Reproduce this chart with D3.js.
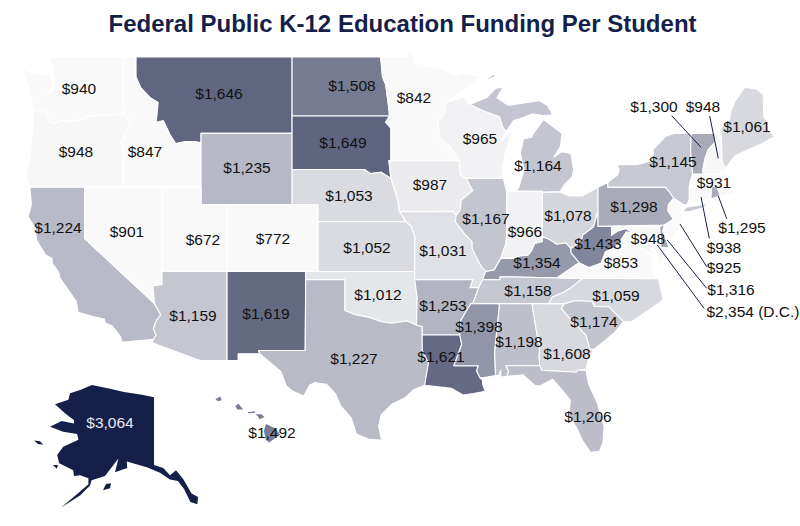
<!DOCTYPE html>
<html>
<head>
<meta charset="utf-8">
<script src="https://cdn.jsdelivr.net/npm/d3@7"></script>
<style>
  html, body { margin: 0; padding: 0; background: #fff; }
  text { font-family: "Liberation Sans", Arial, sans-serif; }
</style>
</head>
<body>
<svg id="map" width="800" height="526"></svg>
<script>
const stateIds = ["WA","OR","CA","ID","NV","MT","WY","UT","AZ","CO","NM","ND","SD","NE","KS","OK","TX","MN","IA","MO","AR","LA","WI","IL","MI","IN","OH","KY","TN","MS","AL","GA","FL","SC","NC","VA","WV","PA","NY","VT","NH","ME","MA","RI","CT","NJ","DE","MD","DC","AK","HI"];
const funding = [940,948,1224,847,901,1646,1235,672,1159,772,1619,1508,1649,1053,1052,1012,1227,842,987,1031,1253,1621,965,1167,1164,966,1078,1354,1158,1398,1198,1608,1206,1174,1059,853,1433,1298,1145,1300,948,1061,931,1295,938,925,1316,948,2354,3064,1492];

// Georgia is printed much lighter in the original than its number says
const shadeOverride = { GA: 1060 };
const shadeStops = [940, 1060, 1235, 1300, 1354, 1400, 1433, 1650, 3064];
const shadeColors = ["#f9f9fa", "#d8d9df", "#b6b8c5", "#a9abb9", "#9699aa", "#9295a7", "#82869c", "#60657f", "#161f49"];

// lon/lat outlines, roughly traced
const stateShapes = {
  WA: [[[-124.73,48.38],[-123.4,48.12],[-122.75,48.14],[-122.5,47.6],[-122.9,47.1],[-122.4,47.3],[-122.3,47.9],[-122.5,48.5],[-122.76,49],[-117.03,49],[-117.04,46.42],[-116.92,45.99],[-118.98,46],[-119.3,45.93],[-119.6,45.92],[-120.5,45.7],[-121.2,45.65],[-121.8,45.7],[-122.3,45.55],[-122.8,45.65],[-122.9,46.1],[-123.4,46.2],[-124,46.27],[-124.07,46.7],[-124.15,47],[-124.4,47.6],[-124.7,48.1]]],
  OR: [[[-124,46.27],[-123.4,46.2],[-122.9,46.1],[-122.8,45.65],[-122.3,45.55],[-121.8,45.7],[-121.2,45.65],[-120.5,45.7],[-119.6,45.92],[-119.3,45.93],[-118.98,46],[-116.92,45.99],[-116.47,45.6],[-116.85,45],[-117.2,44.45],[-117.03,44.25],[-117.03,42],[-124.21,42],[-124.4,42.3],[-124.55,42.84],[-124.2,43.5],[-124.1,44.6],[-123.95,45.5],[-123.95,46.2]]],
  CA: [[[-124.21,42],[-120,42],[-120,39],[-114.63,35],[-114.15,34.3],[-114.5,33.9],[-114.72,33.4],[-114.5,33],[-114.72,32.72],[-117.12,32.53],[-117.25,32.9],[-117.9,33.6],[-118.4,33.75],[-118.5,34.03],[-119.2,34.15],[-120.5,34.45],[-120.65,35.15],[-121.9,36.6],[-122,36.95],[-122.5,37.5],[-122.5,37.8],[-123,38],[-123.7,38.9],[-123.8,39.6],[-124.35,40.3],[-124.1,41]]],
  ID: [[[-117.03,49],[-116.05,49],[-116.05,48],[-115.7,47.45],[-114.95,46.9],[-114.35,46.65],[-114.5,45.6],[-113.95,45.7],[-113.45,44.95],[-113,44.45],[-112.3,44.55],[-111.5,44.55],[-111.05,44.48],[-111.05,42],[-117.03,42],[-117.03,44.25],[-117.2,44.45],[-116.85,45],[-116.47,45.6],[-116.92,45.99],[-117.04,46.42]]],
  NV: [[[-120,42],[-114.04,42],[-114.05,36.2],[-114.75,36.1],[-114.63,35],[-120,39]]],
  MT: [[[-116.05,49],[-104.05,49],[-104.05,45],[-111.05,45],[-111.05,44.48],[-111.5,44.55],[-112.3,44.55],[-113,44.45],[-113.45,44.95],[-113.95,45.7],[-114.5,45.6],[-114.35,46.65],[-114.95,46.9],[-115.7,47.45],[-116.05,48]]],
  WY: [[[-111.05,45],[-104.05,45],[-104.05,41],[-111.05,41]]],
  UT: [[[-114.04,42],[-111.05,42],[-111.05,41],[-109.05,41],[-109.05,37],[-114.05,37]]],
  AZ: [[[-114.05,37],[-109.05,37],[-109.05,31.33],[-111.07,31.33],[-114.81,32.5],[-114.72,32.72],[-114.5,33],[-114.72,33.4],[-114.5,33.9],[-114.15,34.3],[-114.63,35],[-114.75,36.1],[-114.05,36.2]]],
  CO: [[[-109.05,41],[-102.05,41],[-102.05,37],[-109.05,37]]],
  NM: [[[-109.05,37],[-103,37],[-103.04,32],[-106.62,32],[-106.53,31.78],[-108.2,31.78],[-108.2,31.33],[-109.05,31.33]]],
  ND: [[[-104.05,49],[-97.23,49],[-97.1,48],[-96.85,47.6],[-96.6,46.3],[-96.56,45.94],[-104.05,45.94]]],
  SD: [[[-104.05,45.94],[-96.56,45.94],[-96.85,45.6],[-96.45,45.3],[-96.45,43.5],[-96.6,43.5],[-96.45,42.5],[-97.2,42.85],[-98,42.77],[-98.5,43],[-104.05,43]]],
  NE: [[[-104.05,43],[-98.5,43],[-98,42.77],[-97.2,42.85],[-96.45,42.5],[-96.1,41.7],[-95.9,41.2],[-95.85,40.7],[-95.31,40],[-102.05,40],[-102.05,41],[-104.05,41]]],
  KS: [[[-102.05,40],[-95.31,40],[-94.9,39.75],[-94.6,39.1],[-94.62,37],[-102.05,37]]],
  OK: [[[-103,37],[-94.62,37],[-94.43,35.4],[-94.48,33.64],[-95.2,33.9],[-96.4,33.75],[-97.2,33.85],[-98.1,34.13],[-99.2,34.3],[-100,34.56],[-100,36.5],[-103,36.5]]],
  TX: [[[-103,36.5],[-100,36.5],[-100,34.56],[-99.2,34.3],[-98.1,34.13],[-97.2,33.85],[-96.4,33.75],[-95.2,33.9],[-94.48,33.64],[-94.04,33.55],[-94.04,32],[-93.55,31.2],[-93.7,30.5],[-93.85,29.7],[-94.7,29.4],[-95.3,28.9],[-96.4,28.4],[-97.2,27.7],[-97.4,26.9],[-97.15,25.96],[-98.2,26.05],[-99.1,26.4],[-99.5,27.5],[-100.3,28.3],[-100.7,29.1],[-101.4,29.77],[-102.3,29.88],[-102.7,29.7],[-103.15,28.98],[-104,29.3],[-104.5,29.65],[-104.9,30.6],[-106,31.4],[-106.53,31.78],[-106.62,32],[-103.04,32]]],
  MN: [[[-97.23,49],[-95.15,49],[-95.15,49.38],[-94.8,49.3],[-94.6,48.7],[-93.5,48.55],[-92.5,48.4],[-91.4,48.05],[-90.8,48.2],[-89.5,48],[-90.8,47.3],[-92.05,46.7],[-92.3,46.66],[-92.3,46.1],[-92.85,45.6],[-92.75,45],[-92.75,44.75],[-91.9,44.3],[-91.2,43.5],[-96.45,43.5],[-96.45,45.3],[-96.85,45.6],[-96.56,45.94],[-96.6,46.3],[-96.85,47.6],[-97.1,48]]],
  IA: [[[-96.45,43.5],[-91.2,43.5],[-91.1,42.7],[-90.65,42.5],[-90.15,41.8],[-91.05,41.25],[-91.1,40.7],[-91.42,40.38],[-91.7,40.6],[-95.77,40.58],[-95.9,41.2],[-96.1,41.7],[-96.45,42.5],[-96.6,43.5]]],
  MO: [[[-95.77,40.58],[-91.7,40.6],[-91.42,40.38],[-91.5,40],[-90.75,39.25],[-90.2,38.8],[-90.2,38.4],[-89.5,37.3],[-89.15,37],[-89.4,36.5],[-89.7,36],[-90.37,36],[-90.15,36.5],[-94.62,36.5],[-94.62,37],[-94.6,39.1],[-94.9,39.75],[-95.31,40],[-95.85,40.7]]],
  AR: [[[-94.62,36.5],[-90.15,36.5],[-90.37,36],[-89.7,36],[-90.1,35.1],[-90.6,34.6],[-91.1,33.9],[-91.15,33],[-94.04,33],[-94.04,33.55],[-94.48,33.64],[-94.43,35.4]]],
  LA: [[[-94.04,33],[-91.15,33],[-91,32.4],[-91.6,31],[-89.73,31],[-89.85,30.65],[-89.6,30.2],[-89.4,30.05],[-89.4,29.8],[-89.2,29.3],[-90.1,29.15],[-90.9,29.05],[-91.8,29.5],[-92.3,29.55],[-93.85,29.7],[-93.7,30.5],[-93.55,31.2],[-94.04,32]]],
  WI: [[[-92.3,46.66],[-92.05,46.7],[-90.9,46.95],[-90.4,46.55],[-89.1,46.15],[-88.1,45.9],[-87.85,45.35],[-87.6,45.1],[-88,44.55],[-87.05,45.25],[-87.7,43.8],[-87.9,43],[-87.8,42.5],[-90.65,42.5],[-91.1,42.7],[-91.2,43.5],[-91.9,44.3],[-92.75,44.75],[-92.75,45],[-92.85,45.6],[-92.3,46.1]]],
  IL: [[[-90.65,42.5],[-87.8,42.5],[-87.55,41.75],[-87.53,39.35],[-87.6,38.7],[-88,37.8],[-88.5,37.1],[-89.15,37],[-89.5,37.3],[-90.2,38.4],[-90.2,38.8],[-90.75,39.25],[-91.5,40],[-91.42,40.38],[-91.1,40.7],[-91.05,41.25],[-90.15,41.8]]],
  MI: [[[-86.82,41.76],[-84.8,41.76],[-84.8,41.7],[-83.45,41.73],[-83.15,42.1],[-82.5,42.6],[-82.4,43],[-82.6,43.9],[-83.3,44],[-83.9,43.7],[-83.4,44.3],[-83.3,45],[-84.7,45.75],[-85.5,45],[-85.6,44.8],[-86.25,44.7],[-86.5,43.9],[-86.2,43],[-86.6,42]],
       [[-90.4,46.55],[-89.1,46.9],[-88.4,47.4],[-87.8,47.45],[-88.3,46.9],[-87.4,46.5],[-86.1,46.65],[-85,46.75],[-84.4,46.5],[-84,46],[-84.7,45.95],[-85.6,46.05],[-86.5,45.8],[-87,45.7],[-87.6,45.1],[-87.85,45.35],[-88.1,45.9],[-89.1,46.15]],
       [[-89.2,47.85],[-88.5,48.15],[-88.45,48],[-89,47.85]]],
  IN: [[[-87.53,41.72],[-86.82,41.76],[-84.8,41.76],[-84.8,38.8],[-85.4,38.7],[-85.6,38.3],[-85.9,38],[-86.5,37.95],[-87.1,37.8],[-88,37.8],[-87.6,38.7],[-87.53,39.35]]],
  OH: [[[-84.8,41.7],[-83.45,41.73],[-82.7,41.5],[-81.7,41.5],[-80.52,42],[-80.52,40.64],[-80.85,39.7],[-81.7,39.2],[-81.75,39],[-82.2,38.6],[-82.6,38.4],[-83,38.73],[-83.7,38.65],[-84.3,38.95],[-84.8,39.1]]],
  KY: [[[-89.4,36.5],[-89.15,37],[-88.5,37.1],[-88,37.8],[-87.1,37.8],[-86.5,37.95],[-85.9,38],[-85.6,38.3],[-85.4,38.7],[-84.8,38.8],[-84.8,39.1],[-84.3,38.95],[-83.7,38.65],[-83,38.73],[-82.6,38.4],[-82.6,38.15],[-81.97,37.54],[-83.68,36.6],[-88.05,36.68],[-88.05,36.5]]],
  TN: [[[-89.7,36],[-89.4,36.5],[-88.05,36.5],[-88.05,36.68],[-83.68,36.6],[-81.68,36.59],[-82.6,36],[-83.1,35.75],[-84.03,35.4],[-84.32,35],[-85.6,35],[-88.2,35],[-90.3,35],[-90.1,35.1]]],
  MS: [[[-90.3,35],[-88.2,35],[-88.1,34.9],[-88.47,31.9],[-88.4,30.35],[-89.4,30.2],[-89.6,30.2],[-89.85,30.65],[-89.73,31],[-91.6,31],[-91,32.4],[-91.15,33],[-91.1,33.9],[-90.6,34.6]]],
  AL: [[[-88.2,35],[-85.6,35],[-85.18,32.87],[-85,32.3],[-85.05,31.55],[-85,31],[-87.6,31],[-87.4,30.65],[-87.5,30.3],[-88,30.25],[-88,30.7],[-88.15,30.35],[-88.4,30.35],[-88.47,31.9],[-88.1,34.9]]],
  GA: [[[-85.6,35],[-84.32,35],[-83.1,35],[-83.35,34.7],[-82.6,34],[-81.9,33.4],[-81.45,33],[-81.15,32.1],[-80.85,32.05],[-81.3,31.3],[-81.45,30.72],[-82.05,30.7],[-82.2,30.57],[-84.86,30.7],[-85,31],[-85.05,31.55],[-85,32.3],[-85.18,32.87]]],
  FL: [[[-87.6,31],[-85,31],[-84.86,30.7],[-82.2,30.57],[-82.05,30.7],[-81.45,30.72],[-81.25,29.8],[-80.55,28.45],[-80.05,26.9],[-80.15,25.75],[-80.4,25.2],[-81.1,25.13],[-81.75,26],[-82.1,26.7],[-82.75,27.7],[-82.65,28.7],[-83.4,29.5],[-84,30.1],[-85,29.65],[-85.4,29.7],[-86.3,30.4],[-87.5,30.3],[-87.4,30.65]]],
  SC: [[[-83.1,35],[-82.3,35.2],[-81.04,35.15],[-80.93,35.1],[-80.8,34.82],[-79.67,34.8],[-78.55,33.86],[-79.2,33.2],[-79.9,32.7],[-80.85,32.05],[-81.15,32.1],[-81.45,33],[-81.9,33.4],[-82.6,34],[-83.35,34.7]]],
  NC: [[[-81.68,36.59],[-75.87,36.55],[-75.5,35.25],[-76.5,34.65],[-77.95,33.85],[-78.55,33.86],[-79.67,34.8],[-80.8,34.82],[-80.93,35.1],[-81.04,35.15],[-82.3,35.2],[-83.1,35],[-84.32,35],[-84.03,35.4],[-83.1,35.75],[-82.6,36]]],
  VA: [[[-83.68,36.6],[-81.97,37.54],[-81.22,37.24],[-80.3,37.5],[-79.95,38.2],[-79.3,38.42],[-78.87,38.77],[-78.35,39.4],[-77.8,39.32],[-77.5,39.15],[-77.04,38.8],[-77.25,38.35],[-76.95,38.3],[-76.3,37.95],[-76.3,37],[-75.97,36.55],[-81.68,36.59]],
       [[-75.9,37.95],[-75.25,38.03],[-75.95,37.15]]],
  WV: [[[-82.6,38.4],[-82.2,38.6],[-81.75,39],[-81.7,39.2],[-80.85,39.7],[-80.52,40.64],[-80.52,39.72],[-79.48,39.72],[-79.48,39.2],[-79,39.45],[-78.4,39.6],[-77.8,39.32],[-78.35,39.4],[-78.87,38.77],[-79.3,38.42],[-79.95,38.2],[-80.3,37.5],[-81.22,37.24],[-81.97,37.54],[-82.6,38.15]]],
  PA: [[[-80.52,42],[-79.76,42.27],[-79.76,42],[-75.35,42],[-75.05,41.75],[-74.7,41.36],[-75.1,41],[-75.15,40.65],[-74.72,40.15],[-75.4,39.8],[-80.52,39.72],[-80.52,40.64]]],
  NY: [[[-79.76,42.27],[-79,42.7],[-78.9,43],[-79.05,43.27],[-77.5,43.27],[-76.2,43.55],[-76.3,44.1],[-75.3,44.85],[-74.7,45],[-73.35,45],[-73.4,44],[-73.25,42.75],[-73.5,42.05],[-73.5,41.3],[-73.65,41],[-74,41],[-74.7,41.36],[-75.05,41.75],[-75.35,42],[-79.76,42]],
       [[-74,40.6],[-73.75,40.85],[-72.6,40.98],[-72,41.1],[-72.5,40.8],[-73.5,40.58]]],
  VT: [[[-73.35,45],[-71.5,45],[-71.55,44.5],[-72.05,44.1],[-72.3,43.6],[-72.45,43],[-72.46,42.73],[-73.25,42.75],[-73.4,44]]],
  NH: [[[-71.5,45],[-71.3,45.3],[-71.03,44.65],[-70.97,43.4],[-70.7,43.07],[-70.82,42.87],[-71.25,42.73],[-72.46,42.73],[-72.45,43],[-72.3,43.6],[-72.05,44.1],[-71.55,44.5]]],
  ME: [[[-71.03,44.65],[-71.08,45.3],[-70.4,45.75],[-70.3,46.2],[-70,46.7],[-69.23,47.46],[-68.3,47.35],[-67.8,47.07],[-67.78,45.9],[-67.45,45.6],[-67.45,45.2],[-66.95,44.82],[-68,44.4],[-69,44.1],[-70,43.75],[-70.7,43.07],[-70.97,43.4]]],
  MA: [[[-73.5,42.05],[-73.25,42.75],[-72.46,42.73],[-71.25,42.73],[-70.82,42.87],[-70.6,42.65],[-71,42.3],[-70.65,41.95],[-70.5,41.78],[-70.05,41.8],[-70.2,42.07],[-69.95,41.7],[-70.65,41.55],[-71.12,41.5],[-71.38,42.02],[-71.8,42.02]]],
  RI: [[[-71.8,42.02],[-71.38,42.02],[-71.12,41.5],[-71.85,41.32]]],
  CT: [[[-73.5,42.05],[-71.8,42.02],[-71.85,41.32],[-73.65,41],[-73.5,41.3]]],
  NJ: [[[-74.7,41.36],[-74,41],[-74.25,40.5],[-74,40.45],[-74.1,39.75],[-74.9,38.95],[-75.5,39.5],[-75.4,39.8],[-74.72,40.15],[-75.15,40.65],[-75.1,41]]],
  DE: [[[-75.79,39.72],[-75.4,39.8],[-75.55,39.45],[-75.05,38.45],[-75.7,38.46]]],
  MD: [[[-79.48,39.72],[-75.79,39.72],[-75.7,38.46],[-75.05,38.45],[-75.25,38.03],[-75.9,37.95],[-76.2,38.4],[-76.35,39.2],[-76.5,38.5],[-76.3,38.05],[-76.95,38.3],[-77.25,38.35],[-77.04,38.8],[-77.5,39.15],[-77.8,39.32],[-78.4,39.6],[-79,39.45],[-79.48,39.2]]],
  DC: [[[-77.12,38.93],[-77.04,39],[-76.91,38.89],[-77.04,38.79]]],
  AK: [[[-156.5,71.35],[-152,70.85],[-148.5,70.4],[-144,70],[-141,69.65],[-141,60.3],[-138.7,59.9],[-137,58.9],[-135.5,59.6],[-133.7,58.4],[-131.6,56.4],[-130,55.9],[-130.15,54.9],[-131.9,55.2],[-133.5,57],[-135,58.1],[-137,58.3],[-139.5,59.25],[-142.8,60],[-147.8,60.8],[-147.7,59.9],[-150.75,59.3],[-149.9,61.2],[-153.25,58.8],[-156.6,58.2],[-157,57.5],[-159.5,56.1],[-164.2,54.45],[-159.7,56.55],[-157.4,57.65],[-157.4,58.5],[-159.5,58.9],[-161,58.8],[-161.2,59.6],[-164.7,60.55],[-165.2,61.7],[-163.7,62.85],[-159.9,63.8],[-160.2,64.6],[-163.7,64.9],[-167,65.6],[-164.1,66.4],[-161,66.05],[-161,66.5],[-163.25,67.45],[-165.75,68.7],[-162.4,69.3],[-162,70.2],[-159.5,70.65]],
       [[-171,63.7],[-169.5,63.6],[-168.7,63.1],[-170,63.2]],
       [[-166.3,60.3],[-165,60.3],[-165.3,59.8]],
       [[-153.75,56.85],[-153,57.7],[-151.75,57.8],[-152,57.1]]],
  HI: [[[-159.78,22.05],[-159.4,22.22],[-159.3,21.95],[-159.6,21.88]],
       [[-158.25,21.55],[-158,21.7],[-157.65,21.3],[-158.1,21.3]],
       [[-157.3,21.1],[-156.75,21.17],[-156.75,21.05],[-157.25,21.02]],
       [[-156.7,20.95],[-156.25,20.95],[-156,20.75],[-156.4,20.6],[-156.5,20.8]],
       [[-155.9,20.25],[-155.2,19.95],[-154.8,19.5],[-155.65,18.92],[-155.9,19.1],[-156.05,19.75]]]
};

// where each value sits on the page (text centre)
const labelSpots = {
  WA:[79,89],OR:[76,152],CA:[58,228],ID:[145,152],NV:[127,232],MT:[219,94],WY:[247,168],UT:[203,240],AZ:[193,316],CO:[273,239],NM:[266,314],
  ND:[352,86],SD:[343,143],NE:[349,196],KS:[367,248],OK:[378,295],TX:[354,359],MN:[414,98],IA:[430,185],MO:[443,251],AR:[443,306],LA:[441,357],
  WI:[480,139],IL:[486,219],MI:[538,166],IN:[525,232],OH:[568,216],KY:[537,263],TN:[528,291],MS:[479,327],AL:[519,342],GA:[567,354],FL:[588,417],
  SC:[594,322],NC:[616,296],VA:[621,263],WV:[598,244],PA:[634,207],NY:[673,162],VT:[654,107],NH:[703,107],ME:[747,127],MA:[714,183],RI:[742,228],
  CT:[724,248],NJ:[724,268],DE:[731,290],MD:[648,239],DC:[753,312],AK:[110,423],HI:[272,433]
};

// leader lines for the small north-eastern states: [state, x1, y1, x2, y2]
const leaders = [
  ["VT",671.7,115.7,701,147.3],
  ["NH",709.7,116,718.3,158.3],
  ["RI",718.3,196,726.7,218.7],
  ["CT",701,197,709.3,238.3],
  ["NJ",680,224,706.7,266.7],
  ["DE",667.3,240,706.7,288.3],
  ["DC",657.3,245,704,308.3]
];

const svg = d3.select("#map");
const navy = "#161f49";

svg.append("text")
  .attr("x", 402.5)
  .attr("y", 32)
  .attr("text-anchor", "middle")
  .style("font-size", "24px")
  .style("font-weight", "bold")
  .style("fill", navy)
  .text("Federal Public K-12 Education Funding Per Student");

const shade = d3.scaleLinear().domain(shadeStops).range(shadeColors).clamp(true);
const fundingById = new Map(stateIds.map((id, i) => [id, funding[i]]));

// lower 48 and Hawaii are plain mercator, Alaska is shrunk and moved by hand
const mercator48 = d3.geoMercator().scale(745).translate([1645, 790]);
const mercatorHI = d3.geoMercator().scale(745).translate([2293, 693]);
const akX = d3.scaleLinear().domain([-141, -130]).range([154, 198]);
const akY = d3.scaleLinear().domain([71.35, 54.8]).range([385, 505]);

function place(id, lon, lat) {
  if (id == "AK") return [akX(lon), akY(lat)];
  if (id == "HI") return mercatorHI([lon, lat]);
  return mercator48([lon, lat]);
}

function pathFor(id) {
  const transform = d3.geoTransform({
    point: function (lon, lat) {
      const p = place(id, lon, lat);
      this.stream.point(p[0], p[1]);
    }
  });
  return d3.geoPath(transform);
}

const features = stateIds.map((id) => ({
  type: "Feature",
  id: id,
  geometry: {
    type: "MultiPolygon",
    coordinates: stateShapes[id].map((ring) => [ring.concat([ring[0]])])
  }
}));

svg.append("g")
  .selectAll("path")
  .data(features)
  .join("path")
  .attr("d", (d) => pathFor(d.id)(d))
  .attr("fill", (d) => shade(d.id in shadeOverride ? shadeOverride[d.id] : fundingById.get(d.id)))
  .attr("stroke", (d) => (d.id == "AK" || d.id == "HI" ? "none" : "#fff"))
  .attr("stroke-width", 1.1)
  .attr("stroke-linejoin", "round");

svg.append("g")
  .selectAll("line")
  .data(leaders)
  .join("line")
  .attr("x1", (d) => d[1])
  .attr("y1", (d) => d[2])
  .attr("x2", (d) => d[3])
  .attr("y2", (d) => d[4])
  .attr("stroke", navy)
  .attr("stroke-width", 1);

const money = d3.format("$,");

svg.append("g")
  .selectAll("text")
  .data(stateIds)
  .join("text")
  .attr("x", (id) => labelSpots[id][0])
  .attr("y", (id) => labelSpots[id][1])
  .attr("dy", "0.35em")
  .attr("text-anchor", "middle")
  .style("font-size", "15.5px")
  .style("fill", (id) => (id == "AK" ? "#e8e8ee" : "#111"))
  .text((id) => money(fundingById.get(id)) + (id == "DC" ? " (D.C.)" : ""));
</script>
</body>
</html>
